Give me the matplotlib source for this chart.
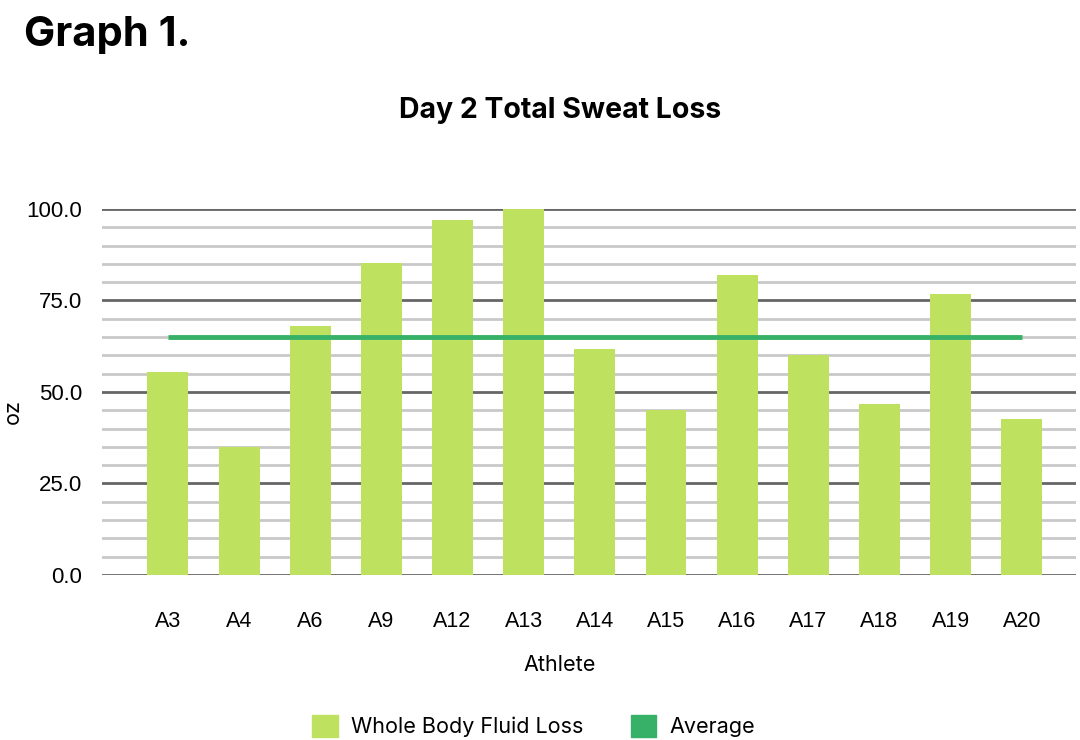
import matplotlib.pyplot as plt
from matplotlib.patches import Patch
import numpy as np

athletes = ['A3', 'A4', 'A6', 'A9', 'A12', 'A13', 'A14', 'A15', 'A16', 'A17', 'A18', 'A19', 'A20']
fluid_loss = [55.5, 35.0, 68.0, 85.2, 97.0, 100.0, 61.7, 45.1, 82.0, 60.1, 46.7, 76.8, 42.6]
average = [65.1] * len(athletes)

bar_color = '#bee260'
avg_color = '#38b168'

fig = plt.figure(figsize=(10.8, 7.4), dpi=100)
ax = fig.add_axes([0.0942, 0.223, 0.902, 0.4946])

x = np.arange(len(athletes))
ax.bar(x, fluid_loss, width=0.575, color=bar_color, zorder=2)
ax.plot(x, average, color=avg_color, linewidth=3.5, zorder=3, solid_capstyle='butt')

ax.set_xlim(-0.93, 12.76)
ax.set_ylim(0, 100)
ax.set_yticks([0, 25, 50, 75, 100])
ax.set_yticklabels(['0.0', '25.0', '50.0', '75.0', '100.0'], fontsize=16, family='Liberation Sans')
ax.set_yticks(np.arange(0, 101, 5), minor=True)
ax.grid(axis='y', which='minor', color='#c9c9c9', linewidth=2.0, zorder=0)
ax.grid(axis='y', which='major', color='#666666', linewidth=2.0, zorder=1)
ax.set_axisbelow(True)
ax.tick_params(axis='both', which='both', length=0)
ax.tick_params(axis='y', pad=14)
ax.tick_params(axis='x', pad=26)
ax.set_xticks(x)
ax.set_xticklabels(athletes, fontsize=15.5, family='Liberation Sans')
for s in ax.spines.values():
    s.set_visible(False)

fig.text(0.5185, 1 - 665 / 740, 'Athlete', fontsize=15.5, family='Inter', va='center', ha='center')
fig.text(0.012, 1 - 412 / 740, 'oz', rotation=90, fontsize=15.5, family='Inter', va='center', ha='center')

fig.text(0.022, 0.953, 'Graph 1.', fontsize=30, fontweight='bold', family='Inter', va='center')
fig.text(0.5185, 0.85, 'Day 2 Total Sweat Loss', fontsize=20.5, fontweight='bold', family='Inter',
         va='center', ha='center')

handles = [Patch(color=bar_color, label='Whole Body Fluid Loss'),
           Patch(color=avg_color, label='Average')]
fig.legend(handles=handles, loc='center', bbox_to_anchor=(0.494, 0.019), ncol=2, frameon=False,
           prop={'family': 'Inter', 'size': 15.5}, handlelength=1.2, handleheight=1.2,
           columnspacing=2.2, handletextpad=0.6)

fig.savefig('out.png', dpi=100)
